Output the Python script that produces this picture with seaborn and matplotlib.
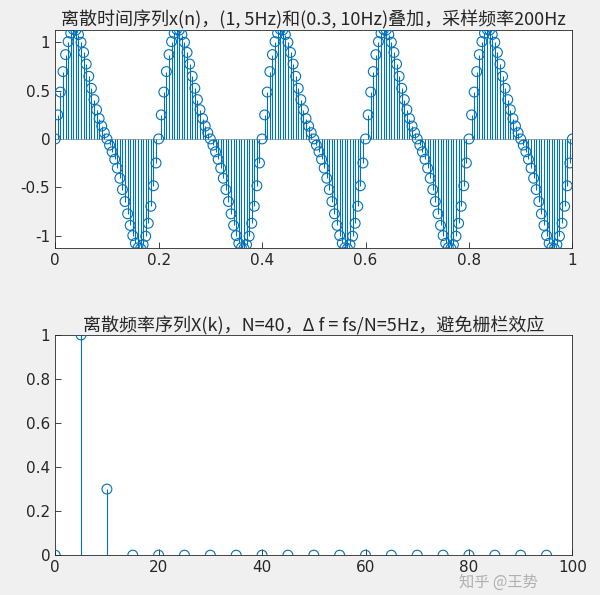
import numpy as np
import pandas as pd
import seaborn as sns
import matplotlib.pyplot as plt

# one period (40 samples) of x(n)
half_period = [0.0, 0.249, 0.485, 0.697, 0.873, 1.007, 1.094, 1.134, 1.127, 1.080,
               1.0, 0.895, 0.775, 0.648, 0.524, 0.407, 0.302, 0.211, 0.133, 0.064]
period = half_period + [0.0] + [-v for v in half_period[1:][::-1]]
x_vals = period * 5 + [0.0]
t_vals = [i / 200 for i in range(len(x_vals))]

freq = [0, 5, 10, 15, 20, 25, 30, 35, 40, 45, 50, 55, 60, 65, 70, 75, 80, 85, 90, 95]
X_mag = [0, 1.0, 0.3, 0, 0, 0, 0, 0, 0, 0, 0, 0, 0, 0, 0, 0, 0, 0, 0, 0]

title1 = "离散时间序列x(n)，(1, 5Hz)和(0.3, 10Hz)叠加，采样频率200Hz"
title2 = "离散频率序列X(k)，N=40，Δ f = fs/N=5Hz，避免栅栏效应"

sns.set_style("ticks")
plt.rcParams['font.family'] = ['Noto Sans CJK SC', 'DejaVu Sans']
blue = "#0072BD"

fig = plt.figure(figsize=(6.0, 5.95), dpi=100)
fig.patch.set_facecolor("#f0f0f0")
ax1 = fig.add_axes([0.092, 0.583, 0.862, 0.367])
ax2 = fig.add_axes([0.092, 0.067, 0.862, 0.370])

def stem(ax, xs, ys):
    ax.vlines(xs, 0, ys, color=blue, lw=0.8)
    df = pd.DataFrame({"x": xs, "y": ys})
    sns.scatterplot(data=df, x="x", y="y", ax=ax, s=50, marker="o",
                    facecolors="none", edgecolor=blue, linewidth=0.8, zorder=3)
    ax.set_xlabel("")
    ax.set_ylabel("")
    for s in ax.spines.values():
        s.set_visible(True)
        s.set_linewidth(0.6)
    ax.tick_params(direction="in", labelsize=11, length=4, width=0.6,
                   top=False, right=False)

stem(ax1, t_vals, x_vals)
ax1.axhline(0, color="#999999", lw=0.6, zorder=1)
ax1.set_xlim(0, 1)
ax1.set_ylim(-1.13, 1.13)
ax1.set_yticks([-1, -0.5, 0, 0.5, 1])
ax1.set_yticklabels(["-1", "-0.5", "0", "0.5", "1"], family="DejaVu Sans")
ax1.set_xticks([0, 0.2, 0.4, 0.6, 0.8, 1])
ax1.set_xticklabels(["0", "0.2", "0.4", "0.6", "0.8", "1"], family="DejaVu Sans")
ax1.set_title(title1, fontsize=13, pad=2)

stem(ax2, freq, X_mag)
ax2.set_xlim(0, 100)
ax2.set_ylim(0, 1)
ax2.set_yticks([0, 0.2, 0.4, 0.6, 0.8, 1])
ax2.set_yticklabels(["0", "0.2", "0.4", "0.6", "0.8", "1"], family="DejaVu Sans")
ax2.set_xticks([0, 20, 40, 60, 80, 100])
ax2.set_xticklabels(["0", "20", "40", "60", "80", "100"], family="DejaVu Sans")
ax2.set_title(title2, fontsize=13, pad=2)

fig.text(0.83, 0.014, "知乎 @王势", color="#b0b0b0", fontsize=11, ha="center")

fig.savefig("out.png", dpi=100, facecolor=fig.get_facecolor())
